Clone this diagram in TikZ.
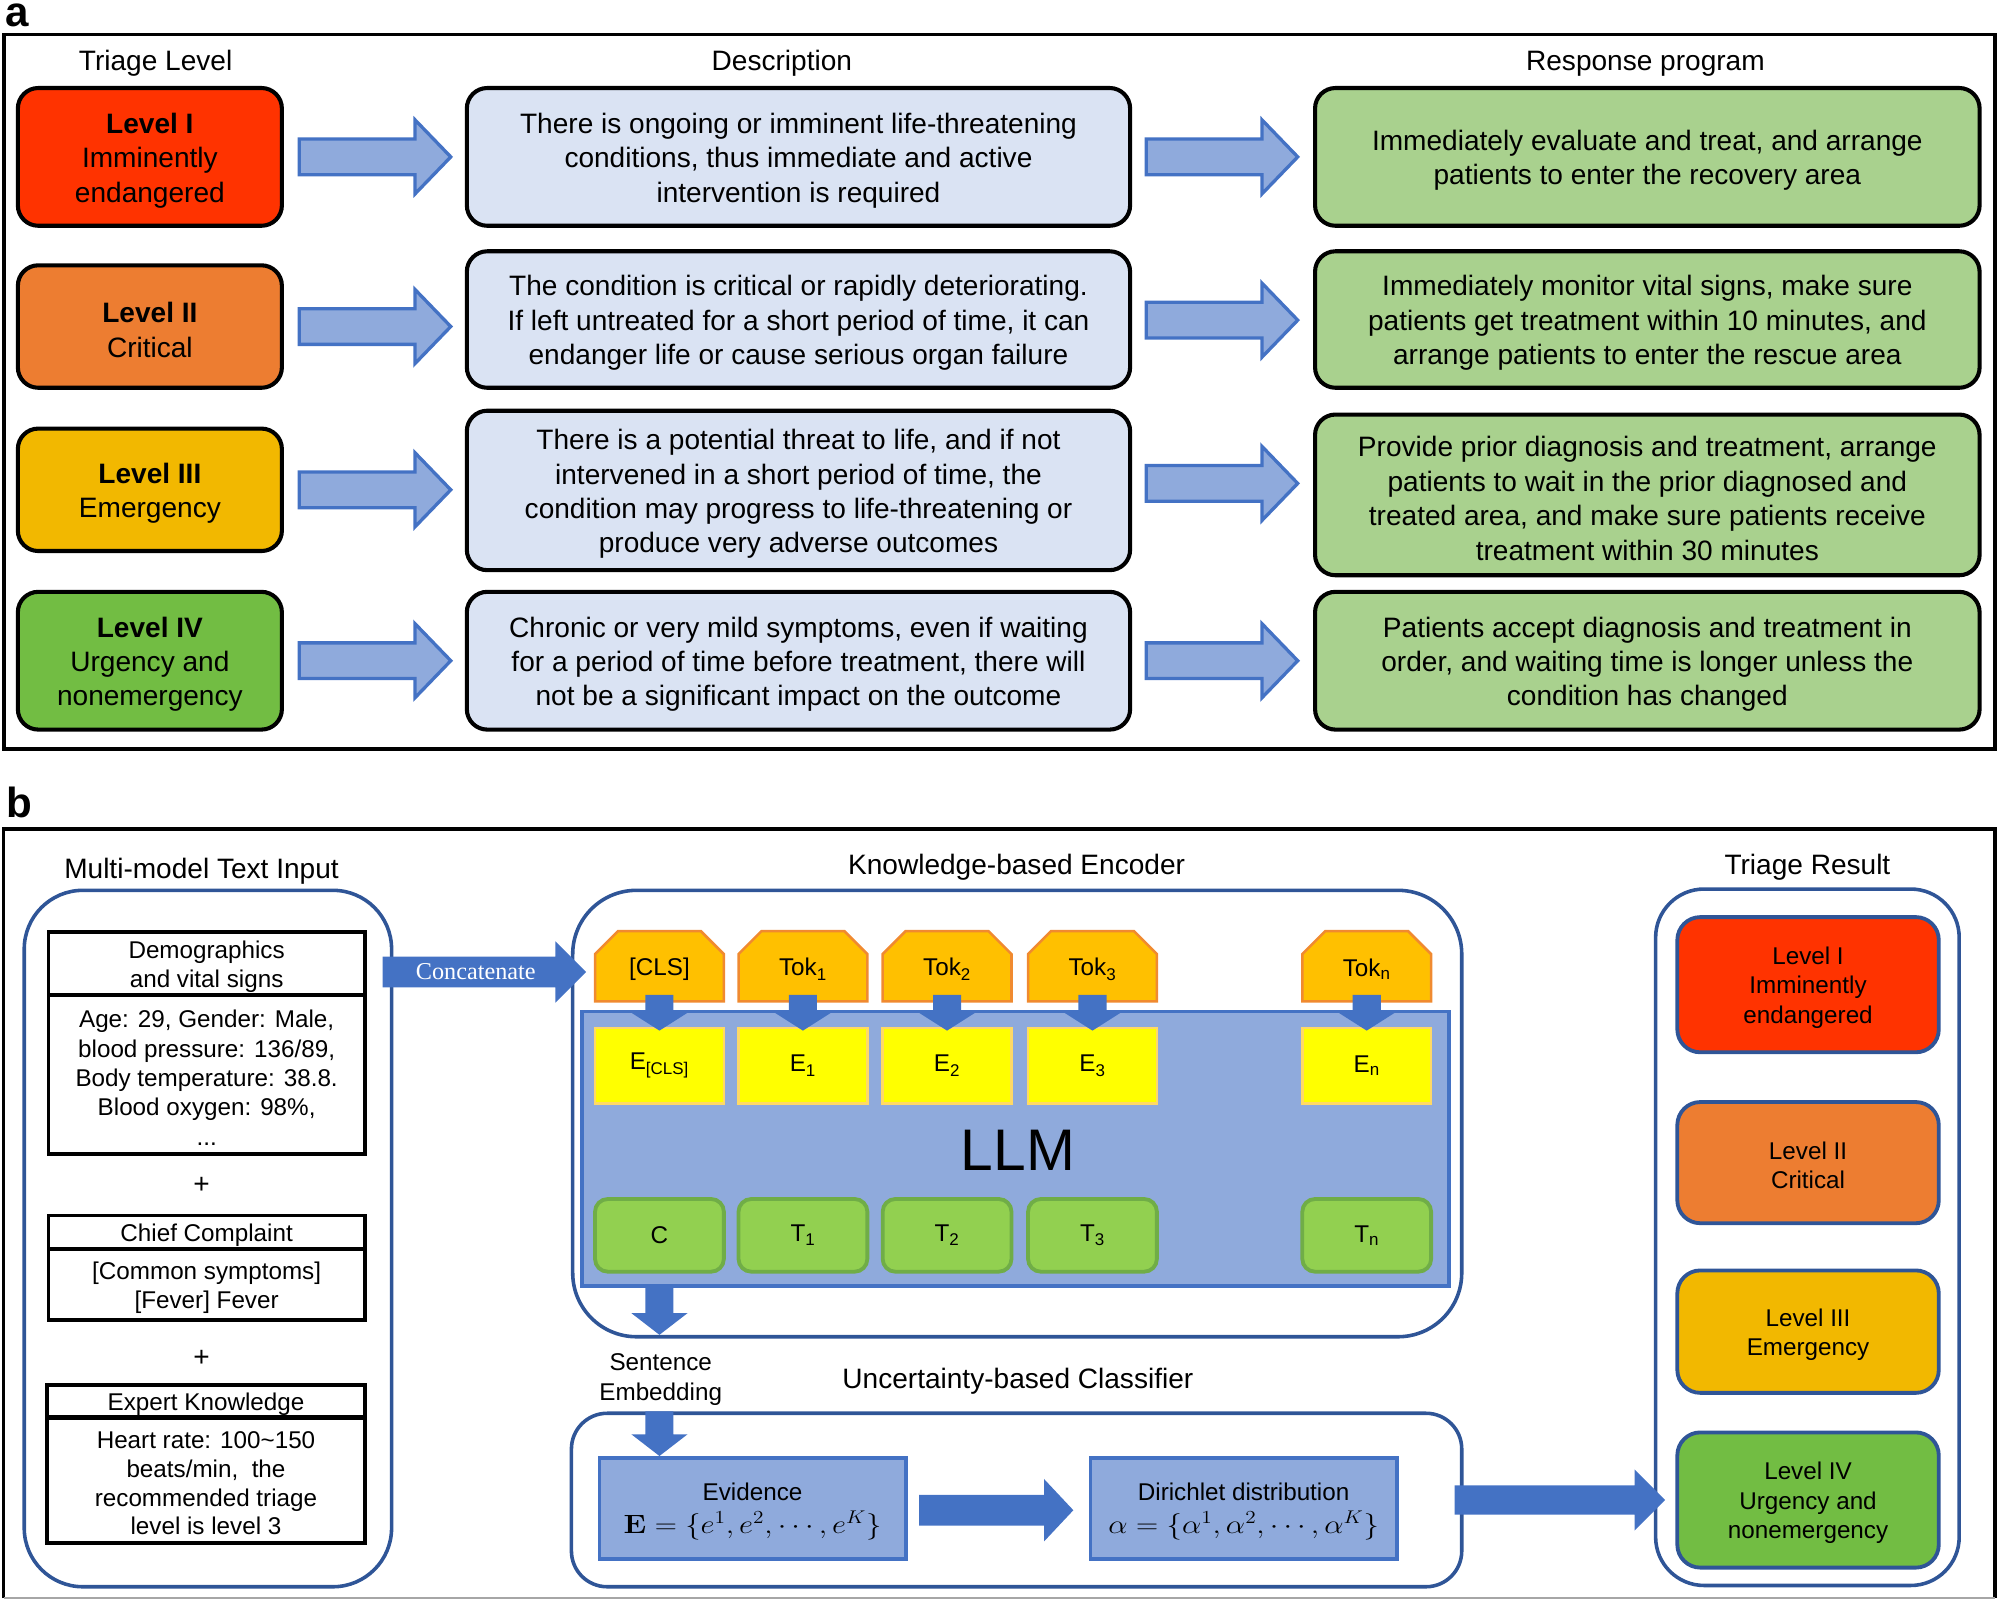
\documentclass[tikz,border=0pt]{standalone}
\usepackage[no-math]{fontspec}
\usepackage{graphicx}
\setmainfont{Liberation Sans}
\newfontfamily\seriffam{Liberation Serif}
\usetikzlibrary{calc,shapes.misc}
\definecolor{lvlone}{HTML}{FF3300}
\definecolor{lvltwo}{HTML}{ED7D31}
\definecolor{lvlthree}{HTML}{F2B800}
\definecolor{lvlfour}{HTML}{72BD43}
\definecolor{descfill}{HTML}{DAE3F3}
\definecolor{respfill}{HTML}{A9D18E}
\definecolor{lightblue}{HTML}{8FAADC}
\definecolor{midblue}{HTML}{4472C4}
\definecolor{darkblue}{HTML}{2F5597}
\definecolor{tokfill}{HTML}{FFC000}
\definecolor{tokline}{HTML}{F08A30}
\definecolor{efill}{HTML}{FFFF00}
\definecolor{eline}{HTML}{FFD966}
\definecolor{tfill}{HTML}{92D050}
\definecolor{tline}{HTML}{70AD47}
\newcommand\fsA{\fontsize{22}{27}\selectfont}
\newcommand\fsB{\fontsize{19}{23}\selectfont}
\newcommand\sA{\rule{0pt}{21.5pt}}
\newcommand\sB{\rule{0pt}{18.5pt}}
\newcommand\harrow[6]{%
 \path[#1] ($(#2)+(0,-#4)$) -- ($(#3)+(-#6,-#4)$) -- ($(#3)+(-#6,-#5)$) -- (#3) -- ($(#3)+(-#6,#5)$) -- ($(#3)+(-#6,#4)$) -- ($(#2)+(0,#4)$) -- cycle;}
\newcommand\varrow[6]{%
 \path[#1] ($(#2)+(-#4,0)$) -- ($(#3)+(-#4,-#6)$) -- ($(#3)+(-#5,-#6)$) -- (#3) -- ($(#3)+(#5,-#6)$) -- ($(#3)+(#4,-#6)$) -- ($(#2)+(#4,0)$) -- cycle;}
\tikzset{
 sz/.style 2 args={minimum width=#1pt, minimum height=#2pt},
 abox/.style={draw=black, line width=3.2pt, rounded corners=16pt, align=center, inner sep=0pt, font=\fsA},
 lightarrow/.style={fill=lightblue, draw=midblue, line width=2.6pt, line join=miter},
 bluearrow/.style={fill=midblue},
 head/.style={font=\fsA, inner sep=0pt},
 inbox/.style={draw=black, line width=3pt, align=center, inner sep=0pt, font=\fsB},
 cont/.style={draw=darkblue, line width=2.8pt, inner sep=0pt},
 tok/.style={chamfered rectangle, chamfered rectangle corners={north west,north east}, chamfered rectangle xsep=9pt, chamfered rectangle ysep=9pt, fill=tokfill, draw=tokline, line width=2pt, inner sep=0pt, sz={101}{55}, font=\fsB},
 ebox/.style={fill=efill, draw=eline, line width=2pt, inner sep=0pt, sz={101}{59}, font=\fsB},
 tbox/.style={fill=tfill, draw=tline, line width=3pt, rounded corners=10pt, inner sep=0pt, sz={101}{57}, font=\fsB},
 pbox/.style={fill=lightblue, draw=midblue, line width=3pt, inner sep=0pt, align=center, sz={240}{79}, font=\fsB},
 rbox/.style={draw=darkblue, line width=3pt, rounded corners=18pt, align=center, inner sep=0pt, sz={205}{#1}, font=\fsB},
}
\begin{document}
\begin{tikzpicture}[x=1pt,y=-1pt]
\useasboundingbox (0,0) rectangle (1568,1255);
% ---------------- panel a ----------------
\node[anchor=base west, inner sep=0pt, font=\fontsize{33}{33}\selectfont\bfseries] (lbla) at (4,21) {a};
\draw[line width=3pt] (3,27) rectangle (1564,587);
\node[head] (hA1) at (122,47) {\sA Triage Level};
\node[head] (hA2) at (613,47) {\sA Description};
\node[head] (hA3) at (1290,47) {\sA Response program};

\node[abox, fill=lvlone, sz={207}{108}] (lvlA1) at (117.5,123) {\sA\textbf{Level I}\\Imminently\\endangered};
\node[abox, fill=lvltwo, sz={207}{96}] (lvlA2) at (117.5,256) {\sA\textbf{Level II}\\Critical};
\node[abox, fill=lvlthree, sz={207}{96}] (lvlA3) at (117.5,384) {\sA\textbf{Level III}\\Emergency};
\node[abox, fill=lvlfour, sz={207}{108}] (lvlA4) at (117.5,518) {\sA\textbf{Level IV}\\Urgency and\\nonemergency};

\node[abox, fill=descfill, sz={520}{108}] (desc1) at (626,123) {\sA There is ongoing or imminent life-threatening\\conditions, thus immediate and active\\intervention is required};
\node[abox, fill=descfill, sz={520}{107}] (desc2) at (626,250.5) {\sA The condition is critical or rapidly deteriorating.\\If left untreated for a short period of time, it can\\endanger life or cause serious organ failure};
\node[abox, fill=descfill, sz={520}{125}] (desc3) at (626,384.5) {\sA There is a potential threat to life, and if not\\intervened in a short period of time, the\\condition may progress to life-threatening or\\produce very adverse outcomes};
\node[abox, fill=descfill, sz={520}{108}] (desc4) at (626,518) {\sA Chronic or very mild symptoms, even if waiting\\for a period of time before treatment, there will\\not be a significant impact on the outcome};

\node[abox, fill=respfill, sz={521}{108}] (resp1) at (1291.5,123) {\sA Immediately evaluate and treat, and arrange\\patients to enter the recovery area};
\node[abox, fill=respfill, sz={521}{107}] (resp2) at (1291.5,250.5) {\sA Immediately monitor vital signs, make sure\\patients get treatment within 10 minutes, and\\arrange patients to enter the rescue area};
\node[abox, fill=respfill, sz={521}{126}] (resp3) at (1291.5,388) {\sA Provide prior diagnosis and treatment, arrange\\patients to wait in the prior diagnosed and\\treated area, and make sure patients receive\\treatment within 30 minutes};
\node[abox, fill=respfill, sz={521}{108}] (resp4) at (1291.5,518) {\sA Patients accept diagnosis and treatment in\\order, and waiting time is longer unless the\\condition has changed};

\foreach \i/\dy in {1/0,2/0.5,3/-5.5,4/0}{
 \coordinate (pt\i) at ($(lvlA\i.east)+(12,0)$);
 \coordinate (ph\i) at ($(pt\i -| desc\i.west)+(-11,0)$);
 \harrow{lightarrow}{pt\i}{ph\i}{14}{29}{28}
 \coordinate (qt\i) at ($(desc\i.east)+(11,\dy)$);
 \coordinate (qh\i) at ($(qt\i -| resp\i.west)+(-12,0)$);
 \harrow{lightarrow}{qt\i}{qh\i}{14}{29}{28}
}
% ---------------- panel b ----------------
\node[anchor=base west, inner sep=0pt, font=\fontsize{33}{33}\selectfont\bfseries] (lblb) at (5,641) {b};
\draw[line width=2.5pt] (3,1253) -- (3,650) -- (1564,650) -- (1564,1253);
\draw[line width=1.2pt, black!35] (3,1253) -- (1564,1253);

\node[head] (hB1) at (158,680) {\sA Multi-model Text Input};
\node[head] (hB2) at (797,677) {\sA Knowledge-based Encoder};
\node[head] (hB3) at (1417,677) {\sA Triage Result};
\node[head] (hB4) at (798,1080) {\sA Uncertainty-based Classifier};

% input container
\node[cont, rounded corners=46pt, sz={288}{546}] (inp) at (163,971) {};
\node[inbox, sz={248}{49}] (demoh) at (162,755.5) {\sB Demographics\\and vital signs};
\node[inbox, sz={248}{125}] (demob) at (162,842.5) {\sB Age: 29, Gender: Male,\\blood pressure: 136/89,\\Body temperature: 38.8.\\Blood oxygen: 98\%,\\...};
\node[font=\fsA, inner sep=0pt] (plus1) at (158,929) {+};
\node[inbox, sz={248}{26}] (chiefh) at (162,966) {\sB Chief Complaint};
\node[inbox, sz={248}{56}] (chiefb) at (162,1007) {\sB[Common symptoms]\\{}[Fever] Fever};
\node[font=\fsA, inner sep=0pt] (plus2) at (158,1065) {+};
\node[inbox, sz={249}{25}] (exph) at (161.5,1098.5) {\sB Expert Knowledge};
\node[inbox, sz={249}{98}, font=\fontsize{19}{22.5}\selectfont] (expb) at (161.5,1160.5) {\sB Heart rate: 100\textasciitilde150\\beats/min,\ \ the\\recommended triage\\level is level 3};

% encoder
\node[cont, rounded corners=50pt, sz={697}{350}] (enc) at (797.5,873) {};
\node[fill=lightblue, draw=midblue, line width=3pt, sz={680}{215}, inner sep=0pt] (llm) at (796,900.5) {};
\node[font=\fontsize{46}{46}\selectfont, inner sep=0pt] (llmtxt) at (798,902) {LLM};

\node[tok] (tk0) at (517,757.5) {\sB[CLS]};
\node[tok] (tk1) at (629.5,757.5) {\sB Tok\textsubscript{1}};
\node[tok] (tk2) at (742.5,757.5) {\sB Tok\textsubscript{2}};
\node[tok] (tk3) at (856.5,757.5) {\sB Tok\textsubscript{3}};
\node[tok] (tkn) at (1071.5,757.5) {\sB Tok\textsubscript{n}};

\node[ebox] (e0) at (517,835.5) {E\textsubscript{[CLS]}};
\node[ebox] (e1) at (629.5,835.5) {E\textsubscript{1}};
\node[ebox] (e2) at (742.5,835.5) {E\textsubscript{2}};
\node[ebox] (e3) at (856.5,835.5) {E\textsubscript{3}};
\node[ebox] (en) at (1071.5,835.5) {E\textsubscript{n}};

\node[tbox] (t0) at (517,968.5) {C};
\node[tbox] (t1) at (629.5,968.5) {T\textsubscript{1}};
\node[tbox] (t2) at (742.5,968.5) {T\textsubscript{2}};
\node[tbox] (t3) at (856.5,968.5) {T\textsubscript{3}};
\node[tbox] (tn) at (1071.5,968.5) {T\textsubscript{n}};

\foreach \k in {0,1,2,3,n}{
 \coordinate (tt\k) at ($(tk\k.south)+(0,-6)$);
 \coordinate (th\k) at ($(e\k.north)+(0,3)$);
 \varrow{bluearrow}{tt\k}{th\k}{11}{22}{14}
}

% concatenate arrow
\coordinate (cct) at (300,762);
\coordinate (cch) at ($(cct -| tk0.west)+(-6,0)$);
\harrow{bluearrow}{cct}{cch}{12}{24}{24}
\node[font=\seriffam\fontsize{19}{19}\selectfont, text=white, inner sep=0pt] (cctxt) at (373,762) {Concatenate};

% sentence embedding
\coordinate (set) at (llm.south -| t0.south);
\coordinate (seh) at ($(set)+(0,37)$);
\varrow{bluearrow}{set}{seh}{11}{22}{17}
\node[font=\fontsize{19}{23.5}\selectfont, align=center, inner sep=0pt] (sent) at (518,1079) {\sB Sentence\\Embedding};

% classifier
\node[cont, rounded corners=28pt, sz={698}{136}] (clsc) at (797,1176) {};
\node[pbox] (ev) at (590,1182.5) {\sB Evidence\\[3pt]\scalebox{1.16}[1]{\fontsize{20}{20}\selectfont$\mathbf{E}=\big\{e^{1},e^{2},\cdots,e^{K}\big\}$}};
\node[pbox] (dir) at (975,1182.5) {\sB Dirichlet distribution\\[3pt]\scalebox{1.16}[1]{\fontsize{20}{20}\selectfont$\alpha=\big\{\alpha^{1},\alpha^{2},\cdots,\alpha^{K}\big\}$}};
\coordinate (ct) at (clsc.north -| t0.south);
\coordinate (ch) at (ev.north -| t0.south);
\varrow{bluearrow}{ct}{ch}{11}{22}{17}
\coordinate (mt) at ($(ev.east)+(9,1.5)$);
\coordinate (mh) at ($(mt -| dir.west)+(-12,0)$);
\harrow{bluearrow}{mt}{mh}{12}{24.5}{23}

% triage result
\node[cont, rounded corners=38pt, sz={238}{546}] (resc) at (1417,970) {};
\node[rbox=106, fill=lvlone] (res1) at (1417.5,772) {\sB Level I\\Imminently\\endangered};
\node[rbox=95, fill=lvltwo] (res2) at (1417.5,911.5) {\sB Level II\\Critical};
\node[rbox=96, fill=lvlthree] (res3) at (1417.5,1044) {\sB Level III\\Emergency};
\node[rbox=106, fill=lvlfour] (res4) at (1417.5,1176) {\sB Level IV\\Urgency and\\nonemergency};
\coordinate (rt) at ($(clsc.east |- res4.west)+(-7,0)$);
\coordinate (rh) at ($(res4.west)+(-8,0)$);
\harrow{bluearrow}{rt}{rh}{11.5}{24}{24}
\end{tikzpicture}
\end{document}
